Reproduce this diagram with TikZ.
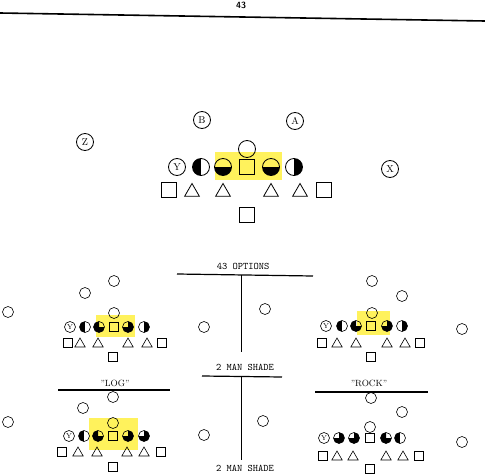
\documentclass[tikz,border=0pt]{standalone}
\usetikzlibrary{shapes.geometric}
\definecolor{hilite}{HTML}{FFF25C}

\tikzset{
  big/.style={circle, draw, thick, minimum size=17pt, inner sep=0pt, font=\fontsize{10}{10}\selectfont},
  bigsq/.style={rectangle, draw, thick, minimum size=15pt, inner sep=0pt},
  bigtri/.style={regular polygon, regular polygon sides=3, draw, thick, minimum size=17pt, inner sep=0pt},
  sm/.style={circle, draw, semithick, minimum size=11pt, inner sep=0pt, font=\fontsize{7}{7}\selectfont},
  smsq/.style={rectangle, draw, semithick, minimum size=9.5pt, inner sep=0pt},
  smtri/.style={regular polygon, regular polygon sides=3, draw, semithick, minimum size=12pt, inner sep=0pt},
  halfL/.style={path picture={\fill[black] (path picture bounding box.north west) rectangle (path picture bounding box.south);}},
  halfR/.style={path picture={\fill[black] (path picture bounding box.north) rectangle (path picture bounding box.south east);}},
  halfB/.style={path picture={\fill[black] (path picture bounding box.west) rectangle (path picture bounding box.south east);}},
  notchTR/.style={path picture={\fill[black] (path picture bounding box.north) -- (path picture bounding box.north west) -- (path picture bounding box.south west) -- (path picture bounding box.south east) -- (path picture bounding box.east) -- (path picture bounding box.center) -- cycle;}},
  notchTL/.style={path picture={\fill[black] (path picture bounding box.north) -- (path picture bounding box.center) -- (path picture bounding box.west) -- (path picture bounding box.south west) -- (path picture bounding box.south east) -- (path picture bounding box.north east) -- cycle;}},
  optlbl/.style={font=\ttfamily\fontsize{10}{12}\selectfont, inner sep=0pt},
  namelbl/.style={font=\fontsize{9}{11}\selectfont, inner sep=0pt},
  rule/.style={black, line width=1.2pt},
}

\begin{document}
\begin{tikzpicture}[x=1pt, y=-1pt]
  \useasboundingbox (0,0) rectangle (485,474);

  % page head
  \node[font=\sffamily\bfseries\fontsize{9}{9}\selectfont, inner sep=0pt] (pageno) at (241,5) {43};
  \coordinate (head-l) at (0,13);
  \coordinate (head-r) at (485,21);
  \draw[black, line width=1.6pt] (head-l) -- (head-r);

  % main front
  \fill[hilite] (215,152) rectangle (282,180);
  \node[big] (m-b) at (202,120) {B};
  \node[big] (m-a) at (295,121) {A};
  \node[big] (m-z) at (85,142) {Z};
  \node[big] (m-x) at (390,169) {X};
  \node[big] (m-fs) at (247,149) {};
  \node[big] (m-y) at (177,167) {Y};
  \node[big, halfL] (m-e1) at (201,167) {};
  \node[big, halfB] (m-t1) at (223,167) {};
  \node[bigsq] (m-c) at (247,167) {};
  \node[big, halfB] (m-t2) at (271,167) {};
  \node[big, halfR] (m-e2) at (294,167) {};
  \node[bigsq] (m-s1) at (169,190) {};
  \node[bigtri] (m-w1) at (192,192) {};
  \node[bigtri] (m-w2) at (223,192) {};
  \node[bigtri] (m-w3) at (271,192) {};
  \node[bigtri] (m-w4) at (300,192) {};
  \node[bigsq] (m-s2) at (324,190) {};
  \node[bigsq] (m-q) at (247,215) {};

  % 43 options
  \node[optlbl] (opt) at (243,266) {43 OPTIONS};
  \coordinate (opt-l) at (177,274);
  \coordinate (opt-r) at (313,276);
  \coordinate (opt-t) at (241,275);
  \coordinate (opt-b) at (241,352);
  \draw[rule] (opt-l) -- (opt-r);
  \draw[black, semithick] (opt-t) -- (opt-b);
  \node[sm] (o-1) at (204,327) {};
  \node[sm] (o-2) at (265,309) {};

  % 2 man shade
  \node[optlbl] (shade) at (245,367) {2 MAN SHADE};
  \coordinate (shade-l) at (202,376);
  \coordinate (shade-r) at (282,377);
  \coordinate (shade-t) at (241,377);
  \coordinate (shade-b) at (241,460);
  \draw[rule] (shade-l) -- (shade-r);
  \draw[black, semithick] (shade-t) -- (shade-b);
  \node[sm] (s-1) at (204,435) {};
  \node[sm] (s-2) at (263,421) {};
  \node[optlbl] (shade2) at (245,468.5) {2 MAN SHADE};

  % top left
  \fill[hilite] (96,315) rectangle (135,337);
  \node[sm] (tl-1) at (8,312) {};
  \node[sm] (tl-2) at (114,281) {};
  \node[sm] (tl-3) at (85,293) {};
  \node[sm] (tl-fs) at (114,313) {};
  \node[sm] (tl-y) at (70,327) {Y};
  \node[sm, halfL] (tl-e1) at (85,327) {};
  \node[sm, notchTR] (tl-t1) at (99,327) {};
  \node[smsq] (tl-c) at (114,327) {};
  \node[sm, notchTL] (tl-t2) at (128,327) {};
  \node[sm, halfR] (tl-e2) at (144,327) {};
  \node[smsq] (tl-s1) at (68,343) {};
  \node[smtri] (tl-w1) at (80,344) {};
  \node[smtri] (tl-w2) at (98,344) {};
  \node[smtri] (tl-w3) at (128,344) {};
  \node[smtri] (tl-w4) at (147,344) {};
  \node[smsq] (tl-s2) at (162,343) {};
  \node[smsq] (tl-q) at (113,357) {};

  % top right
  \fill[hilite] (357,311) rectangle (390,335);
  \node[sm] (tr-1) at (372,281) {};
  \node[sm] (tr-2) at (402,296) {};
  \node[sm] (tr-fs) at (372,313) {};
  \node[sm] (tr-3) at (462,329) {};
  \node[sm] (tr-y) at (326,326) {Y};
  \node[sm, halfL] (tr-e1) at (342,326) {};
  \node[sm, notchTR] (tr-t1) at (356,326) {};
  \node[smsq] (tr-c) at (371,326) {};
  \node[sm, notchTL] (tr-t2) at (387,326) {};
  \node[sm, halfR] (tr-e2) at (402,326) {};
  \node[smsq] (tr-s1) at (322,343) {};
  \node[smtri] (tr-w1) at (337,344) {};
  \node[smtri] (tr-w2) at (356,344) {};
  \node[smtri] (tr-w3) at (387,344) {};
  \node[smtri] (tr-w4) at (405,344) {};
  \node[smsq] (tr-s2) at (420,343) {};
  \node[smsq] (tr-q) at (371,357) {};

  % "LOG"
  \node[namelbl] (log) at (115,383) {"LOG"};
  \coordinate (log-l) at (58,390);
  \coordinate (log-r) at (170,390);
  \draw[rule] (log-l) -- (log-r);
  \fill[hilite] (89,418) rectangle (138,450);
  \node[sm] (bl-1) at (113,397) {};
  \node[sm] (bl-2) at (83,408) {};
  \node[sm] (bl-3) at (8,422) {};
  \node[sm] (bl-fs) at (113,423) {};
  \node[sm] (bl-y) at (69,436) {Y};
  \node[sm, halfL] (bl-e1) at (84,436) {};
  \node[sm, notchTR] (bl-t1) at (98,436) {};
  \node[smsq] (bl-c) at (113,436) {};
  \node[sm, notchTL] (bl-t2) at (128,436) {};
  \node[sm, notchTL] (bl-e2) at (144,436) {};
  \node[smsq] (bl-s1) at (62,452) {};
  \node[smtri] (bl-w1) at (78,453) {};
  \node[smtri] (bl-w2) at (97,453) {};
  \node[smtri] (bl-w3) at (127,453) {};
  \node[smtri] (bl-w4) at (144,453) {};
  \node[smsq] (bl-s2) at (161,452) {};
  \node[smsq] (bl-q) at (113,467) {};

  % "ROCK"
  \node[namelbl] (rock) at (369,383) {"ROCK"};
  \coordinate (rock-l) at (315,392);
  \coordinate (rock-r) at (428,392);
  \draw[rule] (rock-l) -- (rock-r);
  \node[sm] (br-1) at (371,398) {};
  \node[sm] (br-2) at (402,412) {};
  \node[sm] (br-fs) at (370,427) {};
  \node[sm] (br-3) at (462,442) {};
  \node[sm] (br-y) at (324,438) {Y};
  \node[sm, notchTL] (br-e1) at (339,438) {};
  \node[sm, notchTL] (br-t1) at (354,438) {};
  \node[smsq] (br-c) at (370,438) {};
  \node[sm, notchTR] (br-t2) at (386,438) {};
  \node[sm, halfL] (br-e2) at (400,438) {};
  \node[smsq] (br-s1) at (323,456) {};
  \node[smtri] (br-w1) at (337,457) {};
  \node[smtri] (br-w2) at (353,457) {};
  \node[smtri] (br-w3) at (386,457) {};
  \node[smtri] (br-w4) at (403,457) {};
  \node[smsq] (br-s2) at (419,456) {};
  \node[smsq] (br-q) at (370,469) {};
\end{tikzpicture}
\end{document}
